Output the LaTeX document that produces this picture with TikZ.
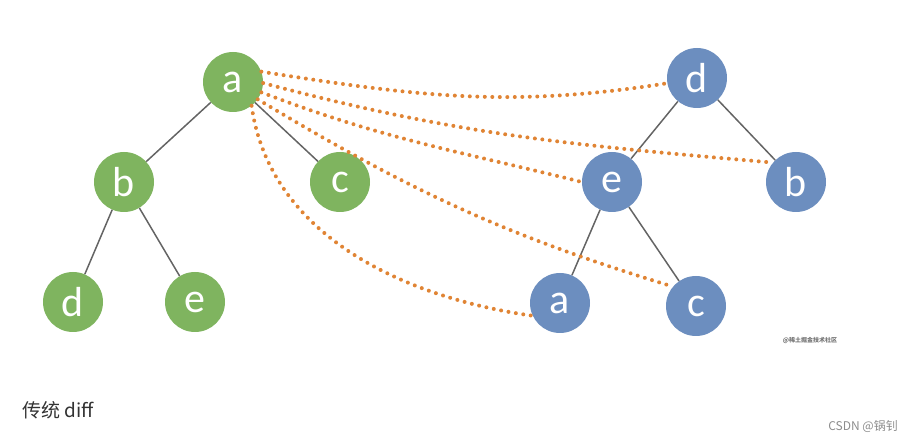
\documentclass[tikz,border=0pt]{standalone}
\usepackage{fontspec}
\setmainfont{Carlito}
\newfontfamily\cjk{Noto Sans CJK SC}
\definecolor{ngreen}{RGB}{127,180,95}
\definecolor{nblue}{RGB}{108,142,191}
\definecolor{dotor}{RGB}{224,132,52}
\definecolor{edgegray}{RGB}{100,100,100}
\begin{document}
\begin{tikzpicture}[x=1pt,y=1pt,
  tnode/.style={circle,minimum size=60pt,inner sep=0pt,text=white,font=\fontsize{42}{42}\selectfont},
  gnode/.style={tnode,fill=ngreen},
  bnode/.style={tnode,fill=nblue},
  tedge/.style={draw=edgegray,line width=1.5pt},
  dotline/.style={draw=dotor,line width=4pt,line cap=round,dash pattern=on 0pt off 7.5pt}
]
\useasboundingbox (0,0) rectangle (913,-443);
% left tree
\node[gnode] (ga) at (233,-82) {a};
\node[gnode] (gb) at (124,-182) {b};
\node[gnode] (gc) at (340,-182) {c};
\node[gnode] (gd) at (73,-302) {d};
\node[gnode] (ge) at (195,-302) {e};
% right tree
\node[bnode] (bd) at (697,-78) {d};
\node[bnode] (be) at (612,-182) {e};
\node[bnode] (bb) at (796,-182) {b};
\node[bnode] (ba) at (560,-303) {a};
\node[bnode] (bc) at (696,-306) {c};
% tree edges
\draw[tedge] (ga) -- (gb);
\draw[tedge] (ga) -- (gc);
\draw[tedge] (gb) -- (gd);
\draw[tedge] (gb) -- (ge);
\draw[tedge] (bd) -- (be);
\draw[tedge] (bd) -- (bb);
\draw[tedge] (be) -- (ba);
\draw[tedge] (be) -- (bc);
% dotted correspondences
\draw[dotline] (ga.20) to[out=-9,in=189] (bd.190);
\draw[dotline] (ga.-2) to[out=-15,in=175] (bb.140);
\draw[dotline] (ga.-20) to[out=-21,in=166] (be.180);
\draw[dotline] (ga.-35) to[out=-31,in=163] (bc.140);
\draw[dotline] (ga.-52) to[out=-82,in=172,looseness=0.95] (ba.205);
% texts
\node[anchor=west,inner sep=0pt,text=black!80,font=\cjk\fontsize{19}{19}\selectfont] (cap) at (22,-410) {传统 diff};
\node[anchor=east,inner sep=0pt,text=black!45,font=\cjk\fontsize{12}{12}\selectfont] (csdn) at (898,-427) {CSDN @锅钊};
\node[anchor=center,inner sep=0pt,text=black!55,font=\cjk\bfseries\fontsize{6}{6}\selectfont] (wm) at (810,-340) {@稀土掘金技术社区};
\end{tikzpicture}
\end{document}
